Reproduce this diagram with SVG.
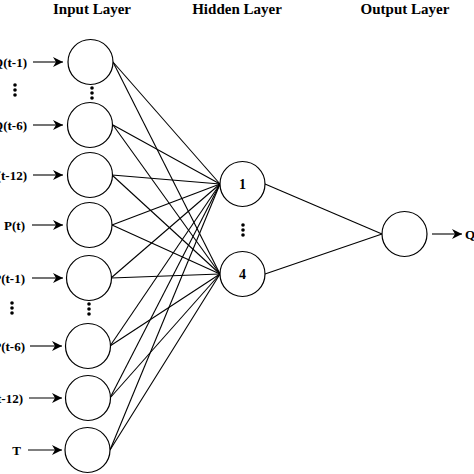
<svg xmlns="http://www.w3.org/2000/svg" width="474" height="474" viewBox="0 0 474 474">
<defs>
<marker id="ah" viewBox="0 0 10 10" refX="10" refY="5" markerWidth="10" markerHeight="10" markerUnits="userSpaceOnUse" orient="auto">
<path d="M0,0 L10,5 L0,10 L3,5 Z" fill="#000"/>
</marker>
</defs>
<style>
.hd{font-family:"Liberation Serif","Times New Roman",serif;font-weight:bold;font-size:15px;text-anchor:middle;fill:#000}
.lb{font-family:"Liberation Serif","Times New Roman",serif;font-weight:bold;font-size:13px;text-anchor:end;fill:#000}
.nl{font-family:"Liberation Serif","Times New Roman",serif;font-weight:bold;font-size:14px;text-anchor:middle;fill:#000}
.nd{fill:#fff;stroke:#000;stroke-width:1.2}
.cn{stroke:#000;stroke-width:1.1;fill:none}
.ar{stroke:#000;stroke-width:1.1;fill:none;marker-end:url(#ah)}
.dt{fill:#000}
</style>
<rect width="474" height="474" fill="#fff"/>
<text class="hd" x="92" y="14">Input Layer</text>
<text class="hd" x="237" y="14">Hidden Layer</text>
<text class="hd" x="405" y="14">Output Layer</text>
<g id="connectors">
<line class="cn" x1="113" y1="62" x2="220" y2="184"/>
<line class="cn" x1="113" y1="62" x2="220" y2="274"/>
<line class="cn" x1="113" y1="125" x2="220" y2="184"/>
<line class="cn" x1="113" y1="125" x2="220" y2="274"/>
<line class="cn" x1="112" y1="175" x2="220" y2="184"/>
<line class="cn" x1="112" y1="175" x2="220" y2="274"/>
<line class="cn" x1="112" y1="225" x2="220" y2="184"/>
<line class="cn" x1="112" y1="225" x2="220" y2="274"/>
<line class="cn" x1="111" y1="278" x2="220" y2="184"/>
<line class="cn" x1="111" y1="278" x2="220" y2="274"/>
<line class="cn" x1="110" y1="346" x2="220" y2="184"/>
<line class="cn" x1="110" y1="346" x2="220" y2="274"/>
<line class="cn" x1="110" y1="398" x2="220" y2="184"/>
<line class="cn" x1="110" y1="398" x2="220" y2="274"/>
<line class="cn" x1="110" y1="450" x2="220" y2="184"/>
<line class="cn" x1="110" y1="450" x2="220" y2="274"/>
<line class="cn" x1="265" y1="184" x2="382" y2="234"/>
<line class="cn" x1="265" y1="274" x2="382" y2="234"/>
<line class="ar" x1="33" y1="62" x2="63" y2="62"/>
<line class="ar" x1="33" y1="125" x2="63" y2="125"/>
<line class="ar" x1="33" y1="175" x2="63" y2="175"/>
<line class="ar" x1="32" y1="225" x2="63" y2="225"/>
<line class="ar" x1="32" y1="278" x2="63" y2="278"/>
<line class="ar" x1="30" y1="346" x2="62" y2="346"/>
<line class="ar" x1="29" y1="398" x2="62" y2="398"/>
<line class="ar" x1="28" y1="450" x2="62" y2="450"/>
<line class="ar" x1="432" y1="234" x2="462" y2="234"/>
</g>
<g id="in1"><circle class="nd" cx="90.5" cy="62" r="22.5"/><text class="lb" x="27" y="66.5">Q(t-1)</text></g>
<g id="in2"><circle class="nd" cx="90" cy="125" r="22.5"/><text class="lb" x="27" y="129.5">Q(t-6)</text></g>
<g id="in3"><circle class="nd" cx="90" cy="175" r="22.5"/><text class="lb" x="27" y="179.5">Q(t-12)</text></g>
<g id="in4"><circle class="nd" cx="89.5" cy="225" r="22.5"/><text class="lb" x="25" y="229.5">P(t)</text></g>
<g id="in5"><circle class="nd" cx="89" cy="278" r="22.5"/><text class="lb" x="25" y="282.5">P(t-1)</text></g>
<g id="in6"><circle class="nd" cx="88" cy="346" r="22.5"/><text class="lb" x="25" y="350.5">P(t-6)</text></g>
<g id="in7"><circle class="nd" cx="88" cy="398" r="22.5"/><text class="lb" x="23" y="402.5">P(t-12)</text></g>
<g id="in8"><circle class="nd" cx="87.5" cy="450" r="22.5"/><text class="lb" x="21" y="454.5">T</text></g>
<g id="h1"><circle class="nd" cx="242.5" cy="184" r="22.5"/><text class="nl" x="242.5" y="189">1</text></g>
<g id="h4"><circle class="nd" cx="242.5" cy="274" r="22.5"/><text class="nl" x="242.5" y="279">4</text></g>
<g id="out"><circle class="nd" cx="404.5" cy="234" r="22.5"/><text class="lb" x="474" y="238.5" style="text-anchor:start" dx="-9">Q</text></g>
<g id="dots">
<circle class="dt" cx="92" cy="88" r="1.8"/><circle class="dt" cx="92" cy="93" r="1.8"/><circle class="dt" cx="92" cy="98" r="1.8"/>
<circle class="dt" cx="15" cy="85" r="1.8"/><circle class="dt" cx="15" cy="90" r="1.8"/><circle class="dt" cx="15" cy="95" r="1.8"/>
<circle class="dt" cx="89" cy="304" r="1.8"/><circle class="dt" cx="89" cy="309" r="1.8"/><circle class="dt" cx="89" cy="314" r="1.8"/>
<circle class="dt" cx="12" cy="303" r="1.8"/><circle class="dt" cx="12" cy="308" r="1.8"/><circle class="dt" cx="12" cy="313" r="1.8"/>
<circle class="dt" cx="243" cy="225" r="1.8"/><circle class="dt" cx="243" cy="230" r="1.8"/><circle class="dt" cx="243" cy="235" r="1.8"/>
</g>
</svg>
